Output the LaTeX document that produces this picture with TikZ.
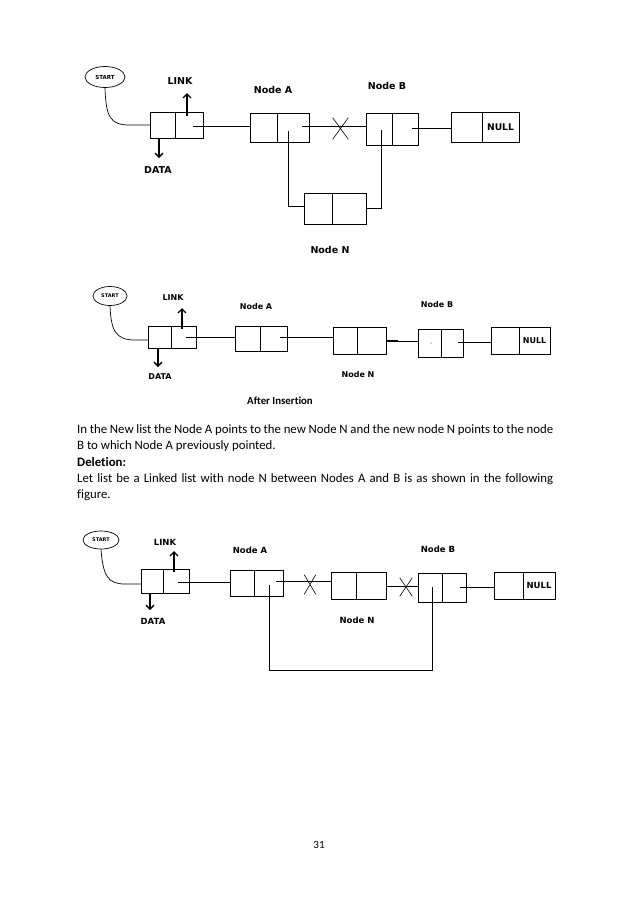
\documentclass[tikz,border=0pt]{standalone}
\usepackage{fontspec}
\setmainfont{Carlito}[Ligatures=NoCommon]
\newfontfamily\lblfont{DejaVu Sans}
\usetikzlibrary{arrows.meta,shapes.misc,shapes.geometric}
\begin{document}
\begin{tikzpicture}[x=1pt,y=-1pt,
  cell/.style={draw, line width=0.7pt, inner sep=0, outer sep=0},
  lblA/.style={font=\lblfont\bfseries\fontsize{9.5}{11}\selectfont, inner sep=0},
  lblB/.style={font=\lblfont\bfseries\fontsize{8}{9}\selectfont, inner sep=0},
  lblC/.style={font=\lblfont\bfseries\fontsize{8.5}{10}\selectfont, inner sep=0},
  startnode/.style={ellipse, draw, line width=0.7pt, inner sep=0},
  ptr/.style={line width=1.3pt, -{Straight Barb[length=4pt,width=8pt]}},
  wire/.style={line width=0.7pt},
  xmark/.style={cross out, draw, line width=0.6pt, inner sep=0},
  body/.style={font=\fontsize{12.8}{15}\selectfont, inner sep=0, anchor=base west}]
\useasboundingbox[fill=white] (0,0) rectangle (638,903);

% ---------------- Diagram 1 ----------------
\node[startnode, minimum width=40, minimum height=21, font=\lblfont\bfseries\fontsize{5.5}{6}\selectfont] (st1) at (105,77) {START};
\node[cell, minimum width=25, minimum height=26] (s1L) at (162.5,125) {};
\node[cell, minimum width=28, minimum height=26] (s1R) at (189,125) {};
\node[cell, minimum width=27, minimum height=29] (a1L) at (263.5,127.5) {};
\node[cell, minimum width=32, minimum height=29] (a1R) at (293,127.5) {};
\node[cell, minimum width=28, minimum height=31] (n1L) at (318,208.5) {};
\node[cell, minimum width=34, minimum height=31] (n1R) at (349,208.5) {};
\node[cell, minimum width=26, minimum height=32] (b1L) at (379,129) {};
\node[cell, minimum width=26, minimum height=32] (b1R) at (405,129) {};
\node[cell, minimum width=31, minimum height=30] (z1L) at (466.5,127) {};
\node[cell, minimum width=37, minimum height=30, font=\lblfont\bfseries\fontsize{9.2}{10}\selectfont] (z1R) at (500.5,127) {NULL};
\node[xmark, minimum width=15, minimum height=21] (x1) at (340.5,128.5) {};

\node[lblA] (lk1t) at (180,81) {LINK};
\node[lblA] (dt1t) at (158,170) {DATA};
\node[lblA] (na1t) at (273,90) {Node A};
\node[lblA] (nb1t) at (387,86) {Node B};
\node[lblA] (nn1t) at (330,250) {Node N};

\coordinate (c1a) at (130,125);
\draw[wire] (st1.south) .. controls (106,117) and (110,125) .. (c1a) -- (s1L.west);
\coordinate (lk1a) at (187,116); \coordinate (lk1b) at (187,93);
\draw[ptr] (lk1a) -- (lk1b);
\coordinate (dt1a) at (159,138); \coordinate (dt1b) at (159,158);
\draw[ptr] (dt1a) -- (dt1b);
\coordinate (p1) at (193,126);
\draw[wire] (p1) -- (p1 -| a1L.west);
\coordinate (p2) at (302,126);
\draw[wire] (p2) -- (p2 -| b1L.west);
\coordinate (p3) at (288,131); \coordinate (p3b) at (288,206);
\draw[wire] (p3) -- (p3b) -- (p3b -| n1L.west);
\coordinate (p4) at (381,208); \coordinate (p4b) at (381,130);
\draw[wire] (p4 -| n1R.east) -- (p4) -- (p4b);
\coordinate (p5) at (412,128);
\draw[wire] (p5) -- (p5 -| z1L.west);

% ---------------- Diagram 2 ----------------
\node[startnode, minimum width=34, minimum height=19, font=\lblfont\bfseries\fontsize{5}{6}\selectfont] (st2) at (110,296) {START};
\node[cell, minimum width=23, minimum height=22] (s2L) at (159.5,337) {};
\node[cell, minimum width=25, minimum height=22] (s2R) at (183.5,337) {};
\node[cell, minimum width=25, minimum height=25] (a2L) at (247.5,338.5) {};
\node[cell, minimum width=27, minimum height=25] (a2R) at (273.5,338.5) {};
\node[cell, minimum width=24, minimum height=27] (n2L) at (345,340.5) {};
\node[cell, minimum width=29, minimum height=27] (n2R) at (371.5,340.5) {};
\node[cell, minimum width=23, minimum height=28] (b2L) at (429.5,343) {};
\node[cell, minimum width=22, minimum height=28] (b2R) at (452,343) {};
\node[cell, minimum width=28, minimum height=27] (z2L) at (505,340.5) {};
\node[cell, minimum width=31, minimum height=27, font=\lblfont\bfseries\fontsize{8}{9}\selectfont] (z2R) at (534.5,340.5) {NULL};
\fill (431,343) circle (0.5);

\node[lblB] (lk2t) at (173,298) {LINK};
\node[lblB] (dt2t) at (160,377) {DATA};
\node[lblB] (na2t) at (256,307) {Node A};
\node[lblB] (nb2t) at (437,305) {Node B};
\node[lblB] (nn2t) at (358,375) {Node N};
\node[font=\bfseries\fontsize{10.8}{12}\selectfont, inner sep=0] (ai) at (280,401) {After Insertion};

\coordinate (c2a) at (135,340); \coordinate (c2b) at (148,340);
\draw[wire] (st2.south) .. controls (111,331) and (116,340) .. (c2a) -- (c2b);
\coordinate (lk2a) at (182,329); \coordinate (lk2b) at (182,308);
\draw[ptr] (lk2a) -- (lk2b);
\coordinate (dt2a) at (158,348); \coordinate (dt2b) at (158,367);
\draw[ptr] (dt2a) -- (dt2b);
\coordinate (q1) at (186,337);
\draw[wire] (q1) -- (q1 -| a2L.west);
\coordinate (q2) at (280,337);
\draw[wire] (q2) -- (q2 -| n2L.west);
\coordinate (q3) at (386,341); \coordinate (q3b) at (398,341);
\draw[wire] (q3) -- (q3 -| b2L.west);
\draw[line width=1.4pt] (q3) -- (q3b);
\coordinate (q4) at (458,342);
\draw[wire] (q4) -- (q4 -| z2L.west);

% ---------------- Text ----------------
\node[body] (t1) at (77,433) {\makebox[476pt][s]{In the New list the Node A points to the new Node N and the new node N points to the node}};
\node[body] (t2) at (77,449) {B to which Node A previously pointed.};
\node[body] (t3) at (77,466) {\bfseries Deletion:};
\node[body] (t4) at (77,482) {\makebox[476pt][s]{Let list be a Linked list with node N between Nodes A and B is as shown in the following}};
\node[body] (t5) at (77,498) {figure.};

% ---------------- Diagram 3 ----------------
\node[startnode, minimum width=36, minimum height=18, font=\lblfont\bfseries\fontsize{5}{6}\selectfont] (st3) at (101,540) {START};
\node[cell, minimum width=22, minimum height=24] (s3L) at (152,581) {};
\node[cell, minimum width=26, minimum height=24] (s3R) at (176,581) {};
\node[cell, minimum width=24, minimum height=26] (a3L) at (242,583) {};
\node[cell, minimum width=29, minimum height=26] (a3R) at (268.5,583) {};
\node[cell, minimum width=25, minimum height=27] (n3L) at (343.5,585.5) {};
\node[cell, minimum width=30, minimum height=27] (n3R) at (371,585.5) {};
\node[cell, minimum width=24, minimum height=29] (b3L) at (430,587.5) {};
\node[cell, minimum width=24, minimum height=29] (b3R) at (454,587.5) {};
\node[cell, minimum width=29, minimum height=27] (z3L) at (508.5,585.5) {};
\node[cell, minimum width=32, minimum height=27, font=\lblfont\bfseries\fontsize{8.5}{9}\selectfont] (z3R) at (539,585.5) {NULL};
\node[xmark, minimum width=11, minimum height=19] (x3) at (310,584.5) {};
\node[xmark, minimum width=12, minimum height=18] (x4) at (406,587) {};

\node[lblC] (lk3t) at (165,542) {LINK};
\node[lblC] (dt3t) at (153,621) {DATA};
\node[lblC] (na3t) at (250,550) {Node A};
\node[lblC] (nb3t) at (438,549) {Node B};
\node[lblC] (nn3t) at (357,620) {Node N};

\coordinate (c3a) at (125,584); \coordinate (c3b) at (141,584);
\draw[wire] (st3.south) .. controls (103,576) and (108,584) .. (c3a) -- (c3b);
\coordinate (lk3a) at (174,572); \coordinate (lk3b) at (174,551);
\draw[ptr] (lk3a) -- (lk3b);
\coordinate (dt3a) at (150,593); \coordinate (dt3b) at (150,610);
\draw[ptr] (dt3a) -- (dt3b);
\coordinate (r1) at (178,582);
\draw[wire] (r1) -- (r1 -| a3L.west);
\coordinate (r2) at (276,581);
\draw[wire] (r2) -- (r2 -| n3L.west);
\coordinate (r3) at (386,586);
\draw[wire] (r3) -- (r3 -| b3L.west);
\coordinate (r4) at (460,587);
\draw[wire] (r4) -- (r4 -| z3L.west);
\coordinate (r5) at (269,585); \coordinate (r5b) at (269,670);
\coordinate (r5c) at (432,670); \coordinate (r5d) at (432,587);
\draw[wire] (r5) -- (r5b) -- (r5c) -- (r5d);

% page number
\node[font=\fontsize{11}{13}\selectfont, inner sep=0, anchor=base] (pg) at (319,848) {31};
\end{tikzpicture}
\end{document}
